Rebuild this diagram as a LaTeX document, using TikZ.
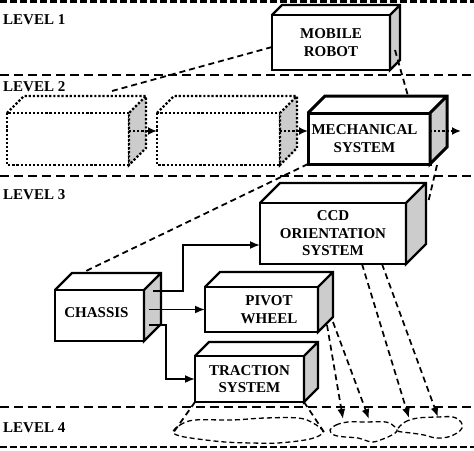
\documentclass[tikz,border=0pt]{standalone}
\usepackage{fontspec}
\setmainfont{Liberation Serif}
\usetikzlibrary{calc,arrows.meta}
\definecolor{sidegray}{gray}{0.8}
\tikzset{
  cubebox/.style={draw, line width=2.2pt, outer sep=0pt, inner sep=0pt, fill=white,
    font=\bfseries\fontsize{15}{17.5}\selectfont, align=center},
  cubeline/.style={line width=2.2pt, line join=miter},
  thickline/.style={line width=3pt, line join=miter},
  dotline/.style={line width=2.4pt, dash pattern=on 2.2pt off 1.9pt},
  lvl/.style={font=\bfseries\fontsize{15}{18}\selectfont, anchor=west, inner sep=0pt},
  levelline/.style={line width=2pt, dash pattern=on 9pt off 5pt},
  edgeline/.style={line width=2.2pt, dash pattern=on 7pt off 3pt},
  proj/.style={line width=1.8pt, dash pattern=on 6pt off 4pt},
  blob/.style={line width=1.3pt, dash pattern=on 5pt off 3pt},
  arr/.style={line width=1.7pt, -{Latex[length=10pt,width=8pt]}},
  darr/.style={line width=1.7pt, dash pattern=on 6pt off 4pt, -{Latex[length=10pt,width=8pt]}},
  dotarr/.style={dotline, -{Latex[length=9pt,width=8pt]}},
}
\newcommand\cubeside[3]{%
  \fill[sidegray] (#1.north east) -- ++(#2,-#2) -- ($(#1.south east)+(#2,-#2)$) -- (#1.south east) -- cycle;
  \draw[#3] (#1.north west) -- ++(#2,-#2) -- ($(#1.north east)+(#2,-#2)$) -- ($(#1.south east)+(#2,-#2)$) -- (#1.south east) -- (#1.north east) -- ++(#2,-#2);
}
\begin{document}
\begin{tikzpicture}[x=1pt,y=-1pt]
\useasboundingbox (0,0) rectangle (474,450);

% level separators
\draw[edgeline] (0,1.5) -- (474,1.5);
\draw[levelline] (0,75) -- (474,75);
\draw[levelline] (0,176) -- (474,176);
\draw[levelline] (0,407) -- (474,407);
\draw[edgeline] (0,447) -- (474,447);

% level labels
\node[lvl] (l1) at (3,20) {LEVEL 1};
\node[lvl] (l2) at (3,87) {LEVEL 2};
\node[lvl] (l3) at (3,195) {LEVEL 3};
\node[lvl] (l4) at (3,428) {LEVEL 4};

% level 1
\node[cubebox, minimum width=118pt, minimum height=55pt] (mr) at (331,42.5) {MOBILE\\ROBOT};

% level 2
\node[draw=none, outer sep=0pt, inner sep=0pt, minimum width=122pt, minimum height=52pt] (d1) at (68,139) {};
\node[draw=none, outer sep=0pt, inner sep=0pt, minimum width=123pt, minimum height=52pt] (d2) at (218.5,139) {};
\draw[dotline] (d1.north west) rectangle (d1.south east);
\draw[dotline] (d2.north west) rectangle (d2.south east);
\node[cubebox, line width=3pt, minimum width=122pt, minimum height=51pt,
  label={[font=\bfseries\fontsize{15}{17.5}\selectfont, align=center, xshift=-4.5pt]center:MECHANICAL\\SYSTEM}] (ms) at (369,138.5) {};

% level 3
\node[cubebox, minimum width=146pt, minimum height=61pt] (ccd) at (333,233.5) {CCD\\ORIENTATION\\SYSTEM};
\node[cubebox, minimum width=89pt, minimum height=51pt,
  label={[font=\bfseries\fontsize{15}{17.5}\selectfont, xshift=-3pt, yshift=2.5pt]center:CHASSIS}] (ch) at (99.5,315.5) {};
\node[cubebox, minimum width=113pt, minimum height=45pt,
  label={[font=\bfseries\fontsize{15}{17.5}\selectfont, align=center, xshift=7.5pt]center:PIVOT\\WHEEL}] (pw) at (261.5,309.5) {};
\node[cubebox, minimum width=109pt, minimum height=46pt] (tr) at (249.5,379) {TRACTION\\SYSTEM};

% 3D sides
\cubeside{mr}{10}{cubeline}
\cubeside{d1}{17}{dotline}
\cubeside{d2}{17}{dotline}
\cubeside{ms}{17}{thickline}
\cubeside{ccd}{20}{cubeline}
\cubeside{ch}{17}{cubeline}
\cubeside{pw}{15}{cubeline}
\cubeside{tr}{14}{cubeline}

% level 4 blobs
\draw[blob] plot[smooth cycle, tension=0.6] coordinates {(173,432) (180,425) (195,420) (232,420) (265,418) (298,418) (313,423) (323,432) (310,439) (278,443) (252,443) (225,442) (198,439) (180,436)};
\draw[blob] plot[smooth cycle, tension=0.6] coordinates {(330,430) (336,425) (348,422) (366,422) (386,422) (395,427) (397,431) (392,435) (383,439) (372,442) (358,438) (345,437) (334,435)};
\draw[blob] plot[smooth cycle, tension=0.6] coordinates {(397,430) (405,422) (418,418) (438,417) (453,417) (461,422) (462,428) (457,433) (448,437) (436,438) (424,435) (411,433) (402,432)};

\coordinate (p1) at (112,91);
\coordinate (b1l) at (173,433);
\coordinate (b1r) at (324,432);
\coordinate (b2a) at (343,419);
\coordinate (b2b) at (369,419);
\coordinate (b3a) at (409,418);
\coordinate (b3b) at (438,417);
\coordinate (mend) at (461,131);

% projection lines
\draw[proj] ([yshift=-4.5pt]mr.west) -- (p1);
\draw[proj] ([xshift=5pt,yshift=-7.5pt]mr.east) -- ([xshift=39pt,yshift=17pt]ms.north);
\draw[proj] (ms.south west) -- ([xshift=31pt,yshift=19pt]ch.north west);
\draw[proj] ([xshift=7pt,yshift=-1pt]ms.south east) -- ([xshift=22pt]ccd.north east);
\draw[proj] (tr.south west) -- (b1l);
\draw[proj] (tr.south east) -- (b1r);

% level 2 flow
\draw[dotarr] ([yshift=8pt]d1.east) -- ([yshift=8pt]d2.west);
\draw[dotarr] ([yshift=8pt]d2.east) -- ([yshift=7.5pt]ms.west);
\draw[dotarr] ([yshift=7.5pt]ms.east) -- (mend);

% chassis connections
\draw[arr] ([xshift=9pt,yshift=-1pt]ch.north east) -- ++(30,0) |- ([yshift=-11.5pt]ccd.west);
\draw[arr] (pw.west -| ch.east) ++(5,0) -- (pw.west);
\draw[arr] ([xshift=5pt,yshift=-9.5pt]ch.east) -- ++(17,0) |- (tr.west);

% down to level 4
\draw[darr] ([xshift=9pt,yshift=7pt]pw.south east) -- (b2a);
\draw[darr] ([xshift=15pt,yshift=10pt]pw.south east) -- (b2b);
\draw[darr] ([xshift=29pt]ccd.south) -- (b3a);
\draw[darr] ([xshift=49pt]ccd.south) -- (b3b);
\end{tikzpicture}
\end{document}
